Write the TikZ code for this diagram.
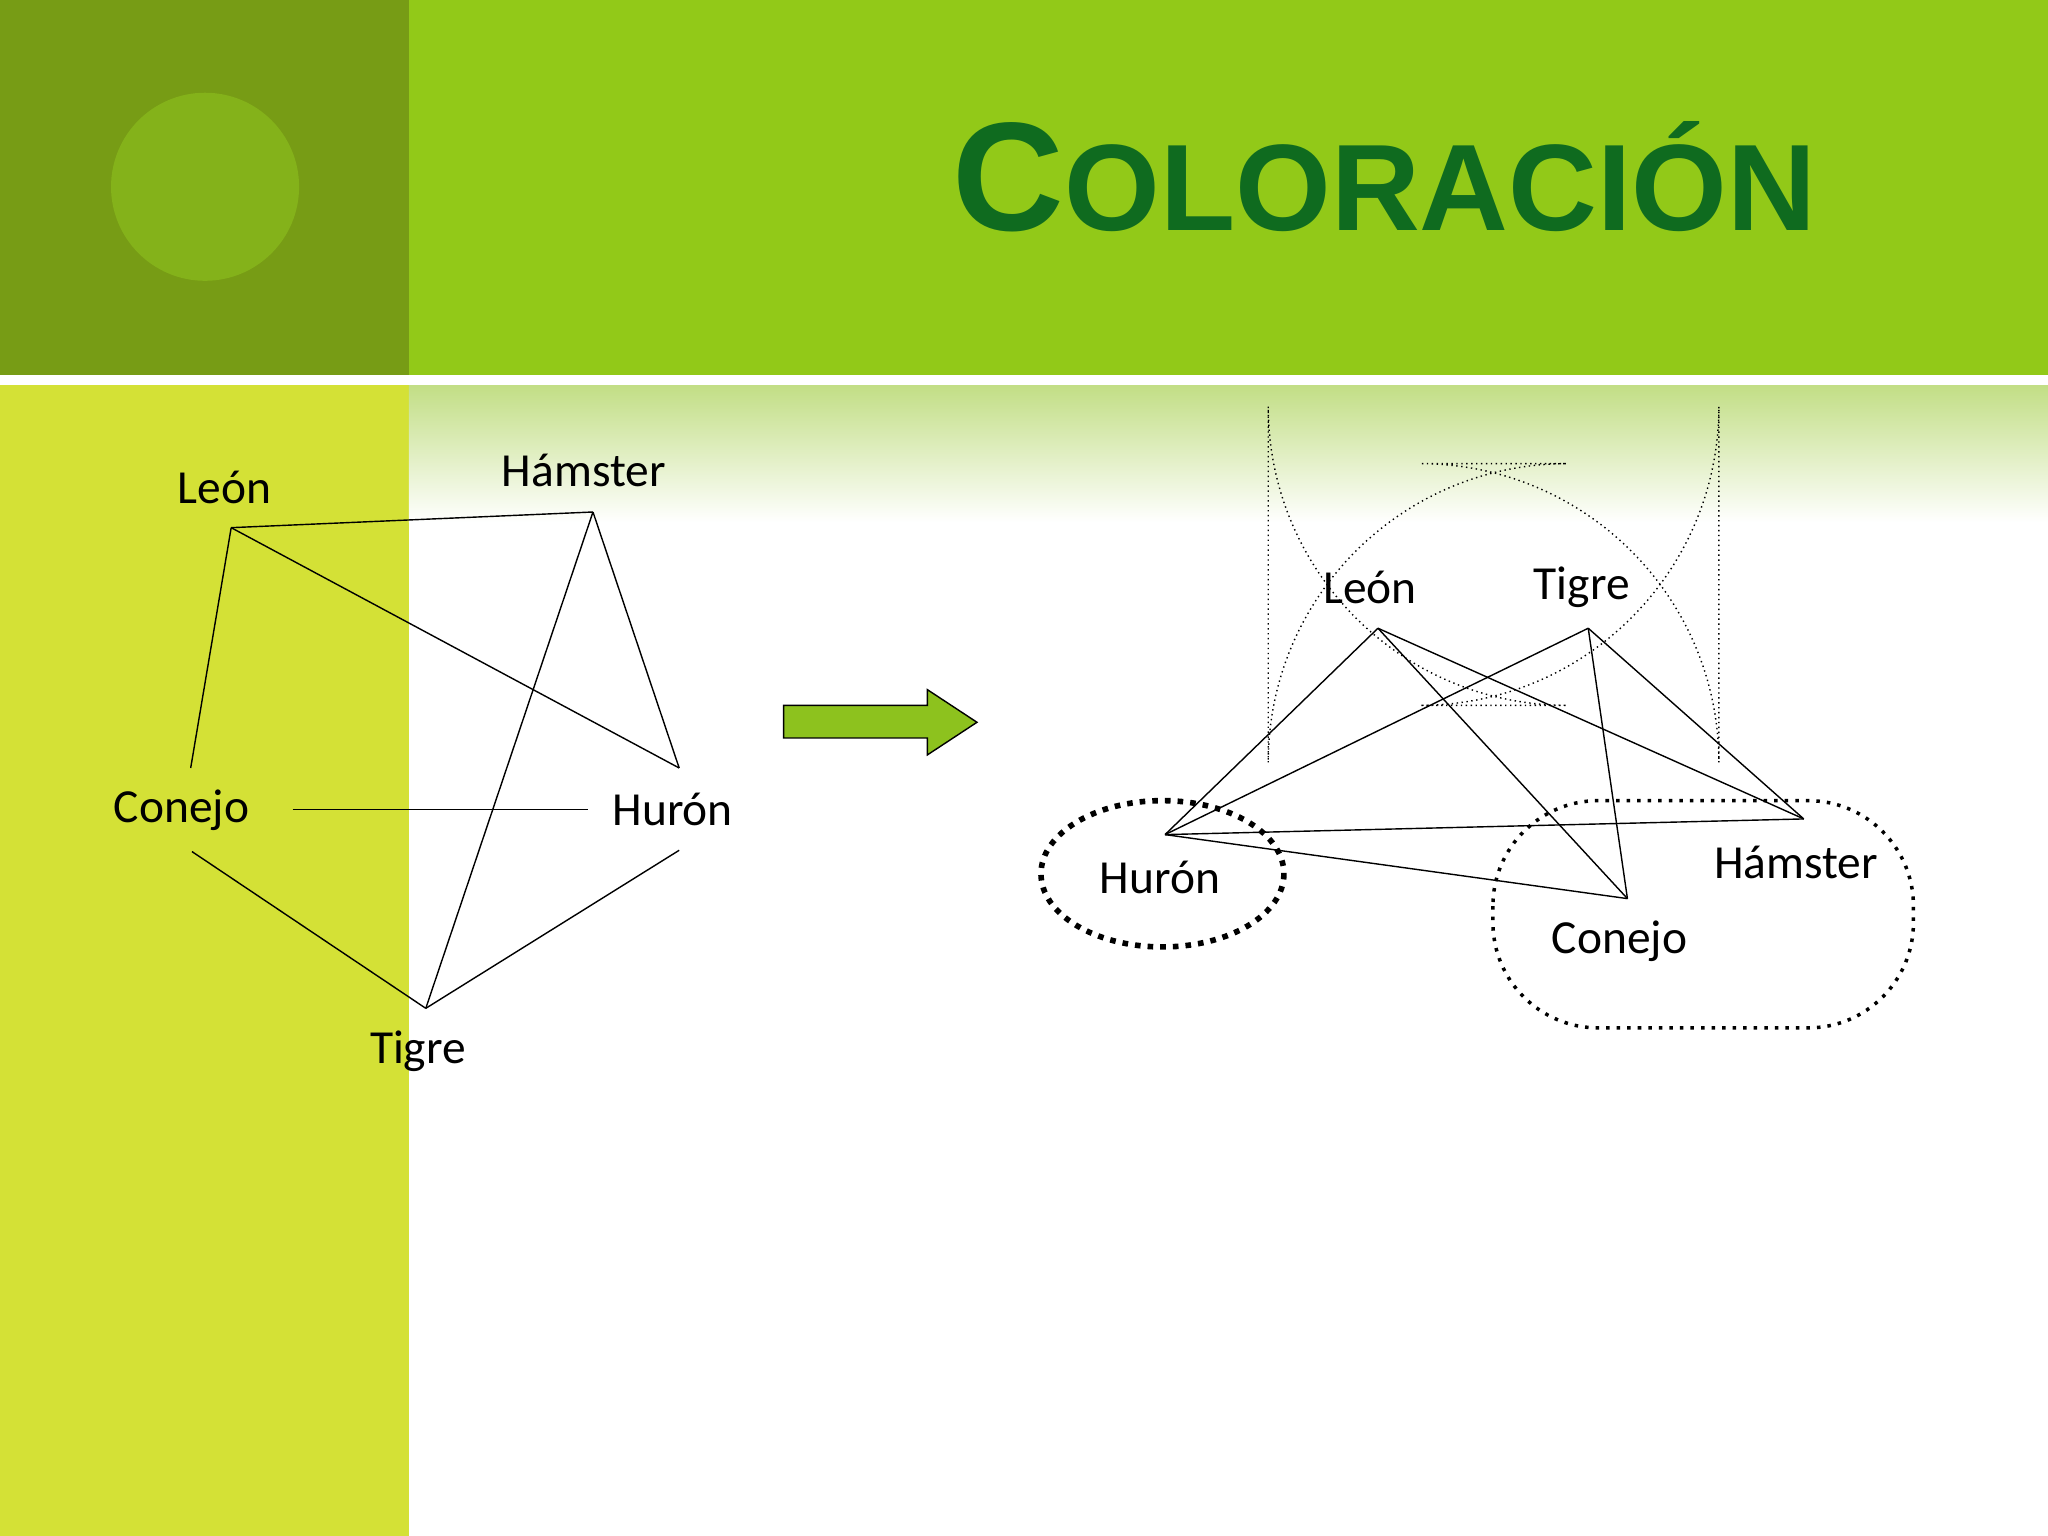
\documentclass[tikz,border=0pt]{standalone}
\usepackage{fontspec}
\setmainfont{Carlito}
\newfontfamily\titlefont{Liberation Sans}
\usetikzlibrary{positioning}
\definecolor{bandgreen}{HTML}{92C918}
\definecolor{darkband}{HTML}{779C15}
\definecolor{circgreen}{HTML}{84B21A}
\definecolor{stripgreen}{HTML}{D4E136}
\definecolor{titlegreen}{HTML}{0F6B1F}
\definecolor{arrowgreen}{HTML}{8DC21E}
\definecolor{fadegreen}{HTML}{C2DE85}
\tikzset{
  lbl/.style={font=\fontsize{13.5}{15}\selectfont, inner sep=0pt},
  edge/.style={thin, black},
}
\begin{document}
\begin{tikzpicture}[x=0.01306cm, y=-0.01306cm]
    \useasboundingbox (0,0) rectangle (1568,1176);
    % background
    \fill[white] (0,0) rectangle (1568,1176);
    \fill[bandgreen] (0,0) rectangle (1568,287);
    \fill[darkband] (0,0) rectangle (313,287);
    \fill[circgreen] (157,143) circle (72);
    \fill[stripgreen] (0,295) rectangle (313,1176);
    \shade[top color=fadegreen, bottom color=white] (313,295) rectangle (1568,400);

    \node[titlegreen, font=\titlefont\bfseries\fontsize{44}{48}\selectfont, inner sep=0pt] (title) at (1060,135)
      {C\fontsize{35}{40}\selectfont OLORACIÓN};

    % left graph
    \node[lbl] (leon) at (172,373) {León};
    \node[lbl] (hamster) at (447,360) {Hámster};
    \node[lbl] (conejo) at (139,620) {Conejo};
    \node[lbl] (huron) at (515,620) {Hurón};
    \node[lbl] (tigre) at (320,805) {Tigre};

    \coordinate (L) at (177,404);
    \coordinate (H) at (454,392);
    \coordinate (T) at (326,772);
    \coordinate (Cn) at (146,588);
    \coordinate (Ce) at (224,620);
    \coordinate (Cs) at (147,652);
    \coordinate (Un) at (520,588);
    \coordinate (Uw) at (450,620);
    \coordinate (Us) at (520,651);

    \draw[edge] (L) -- (H);
    \draw[edge] (L) -- (Cn);
    \draw[edge] (L) -- (Un);
    \draw[edge] (H) -- (Un);
    \draw[edge] (H) -- (T);
    \draw[edge] (Ce) -- (Uw);
    \draw[edge] (Cs) -- (T);
    \draw[edge] (Us) -- (T);

    % arrow
    \draw[fill=arrowgreen, thin] (600,540) -- (710,540) -- (710,528) -- (748,553)
      -- (710,578) -- (710,565) -- (600,565) -- cycle;

    % right graph
    \draw[densely dotted, thin, rounded corners=85] (971,355) rectangle (1316,540);
    \draw[dotted, line width=1.6pt] (890,669) ellipse (93 and 56);
    \draw[dotted, line width=1pt, rounded corners=30] (1143,613) rectangle (1465,787);

    \node[lbl] (leon2) at (1049,450) {León};
    \node[lbl] (tigre2) at (1211,450) {Tigre};
    \node[lbl] (huron2) at (888,672) {Hurón};
    \node[lbl] (hamster2) at (1375,660) {Hámster};
    \node[lbl] (conejo2) at (1240,721) {Conejo};

    \coordinate (L2) at (1055,481);
    \coordinate (T2) at (1216,481);
    \coordinate (U2) at (892,639);
    \coordinate (H2) at (1381,627);
    \coordinate (C2) at (1246,688);

    \draw[edge] (L2) -- (U2);
    \draw[edge] (L2) -- (H2);
    \draw[edge] (L2) -- (C2);
    \draw[edge] (T2) -- (U2);
    \draw[edge] (T2) -- (C2);
    \draw[edge] (T2) -- (H2);
    \draw[edge] (U2) -- (H2);
    \draw[edge] (U2) -- (C2);
\end{tikzpicture}
\end{document}
